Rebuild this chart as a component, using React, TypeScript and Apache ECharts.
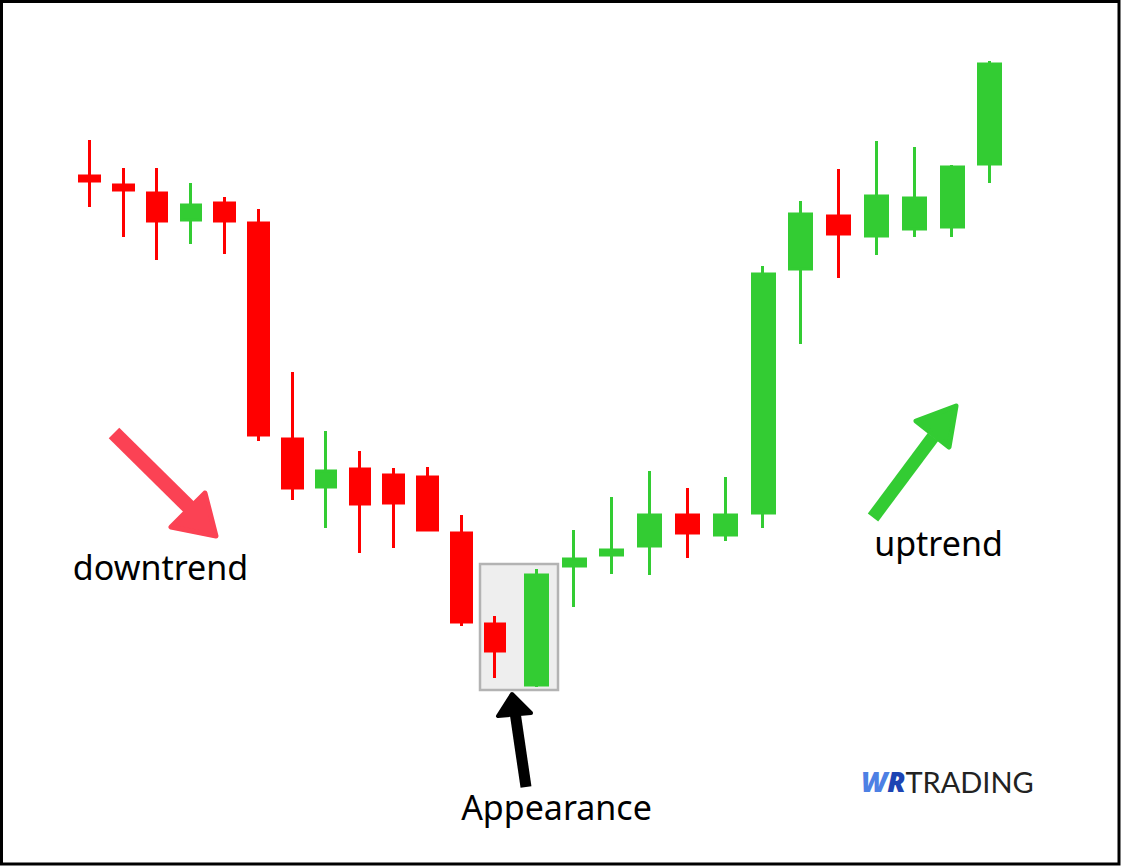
import React, { useEffect, useRef } from 'react';
import * as echarts from 'echarts';

// Candles are [open, close, low, high]; price units are arbitrary (no axis shown)
const fallDays = ['1', '2', '3', '4', '5', '6', '7', '8', '9', '10', '11', '12', '13'];
const fallCandles = [
    [690, 685, 659, 726],
    [681, 676, 629, 698],
    [673, 645, 606, 698],
    [646, 661, 622, 683],
    [663, 645, 612, 669],
    [643, 431, 425, 657],
    [427, 378, 366, 494],
    [379, 395, 338, 435],
    [397, 362, 313, 415],
    [391, 363, 318, 398],
    [389, 336, 335, 399],
    [333, 244, 240, 351],
    [242, 215, 188, 250]
];

const riseDays = ['14', '15', '16', '17', '18', '19', '20', '21', '22', '23', '24', '25', '26'];
const riseCandles = [
    [181, 291, 179, 297],
    [300, 307, 259, 336],
    [311, 316, 292, 369],
    [320, 351, 291, 395],
    [351, 333, 308, 378],
    [331, 351, 325, 389],
    [353, 592, 338, 600],
    [597, 652, 522, 665],
    [650, 632, 588, 697],
    [630, 670, 611, 725],
    [637, 668, 629, 719],
    [639, 699, 629, 701],
    [702, 802, 683, 805]
];

const labels = ['downtrend', 'uptrend', 'Appearance'];

const UP = '#33CC33';
const DOWN = '#FF0000';
const FONT = '"Noto Sans", "Open Sans", sans-serif';

const candleSeries = (name: string, idx: number, data: number[][], barWidth: number) => ({
    name,
    type: 'candlestick' as const,
    xAxisIndex: idx,
    yAxisIndex: idx,
    data,
    barWidth,
    itemStyle: {
        color: UP,
        color0: DOWN,
        borderColor: UP,
        borderColor0: DOWN,
        borderWidth: 3
    }
});

const hiddenY = (gridIndex: number) => ({
    type: 'value' as const,
    gridIndex,
    min: 0,
    max: 866,
    show: false
});

const hiddenX = (gridIndex: number, data: string[]) => ({
    type: 'category' as const,
    gridIndex,
    data,
    show: false
});

const label = (text: string, x: number, y: number) => ({
    type: 'text' as const,
    z: 100,
    x,
    y,
    style: {
        text,
        fill: '#000',
        font: `34px ${FONT}`,
        align: 'center' as const,
        verticalAlign: 'middle' as const
    }
});

export default function App() {
    const chartRef = useRef<HTMLDivElement>(null);

    useEffect(() => {
        if (!chartRef.current) return;
        const chart = echarts.init(chartRef.current, null, { renderer: 'svg' });

        const option: echarts.EChartsOption = {
            animation: false,
            backgroundColor: '#ffffff',
            grid: [
                { left: 72.6, width: 439.4, top: 0, bottom: 0 },
                { left: 517.4, width: 491.4, top: 0, bottom: 0 }
            ],
            xAxis: [hiddenX(0, fallDays), hiddenX(1, riseDays)],
            yAxis: [hiddenY(0), hiddenY(1)],
            series: [
                candleSeries('fall', 0, fallCandles, 20),
                candleSeries('rise', 1, riseCandles, 22.5)
            ],
            graphic: [
                // frame
                {
                    type: 'rect',
                    z: 200,
                    shape: { x: 1.5, y: 1.5, width: 1117.5, height: 862.5 },
                    style: { fill: 'none', stroke: '#000', lineWidth: 3 }
                },
                // highlight box behind the two candles
                {
                    type: 'rect',
                    z: -1,
                    shape: { x: 480, y: 564, width: 78, height: 126 },
                    style: { fill: '#EEEEEE', stroke: '#B3B3B3', lineWidth: 2.5 }
                },
                // downtrend arrow
                {
                    type: 'line',
                    z: 100,
                    shape: { x1: 114, y1: 433, x2: 192, y2: 510 },
                    style: { stroke: '#FB4254', lineWidth: 15 }
                },
                {
                    type: 'polygon',
                    z: 100,
                    shape: { points: [[205, 493], [171, 527], [216, 536]] },
                    style: { fill: '#FB4254', stroke: '#FB4254', lineWidth: 5, lineJoin: 'round' }
                },
                // uptrend arrow
                {
                    type: 'line',
                    z: 100,
                    shape: { x1: 873, y1: 517.5, x2: 933, y2: 437 },
                    style: { stroke: UP, lineWidth: 13 }
                },
                {
                    type: 'polygon',
                    z: 100,
                    shape: { points: [[916, 421], [949, 447], [956, 406]] },
                    style: { fill: UP, stroke: UP, lineWidth: 5, lineJoin: 'round' }
                },
                // appearance arrow
                {
                    type: 'line',
                    z: 100,
                    shape: { x1: 526, y1: 787, x2: 515, y2: 712 },
                    style: { stroke: '#000', lineWidth: 11 }
                },
                {
                    type: 'polygon',
                    z: 100,
                    shape: { points: [[498, 716], [531, 713], [512, 694]] },
                    style: { fill: '#000', stroke: '#000', lineWidth: 4, lineJoin: 'round' }
                },
                label(labels[0], 160.5, 567),
                label(labels[1], 938.5, 543),
                label(labels[2], 556.5, 807),
                // logo
                {
                    type: 'text',
                    z: 100,
                    x: 861,
                    y: 781,
                    style: {
                        text: '{w|W}{r|R}{t|TRADING}',
                        align: 'left',
                        verticalAlign: 'middle',
                        rich: {
                            w: { fill: '#4D80E4', font: `italic 900 28px ${FONT}` },
                            r: { fill: '#1D44B3', font: `italic 900 28px ${FONT}` },
                            t: { fill: '#222222', font: `29px Lato, ${FONT}` }
                        }
                    }
                }
            ]
        };

        chart.setOption(option);

        return () => {
            chart.dispose();
        };
    }, []);

    return (
        <div
            ref={chartRef}
            style={{ position: 'absolute', left: 0, top: 0, width: 1121, height: 866 }}
        />
    );
}
